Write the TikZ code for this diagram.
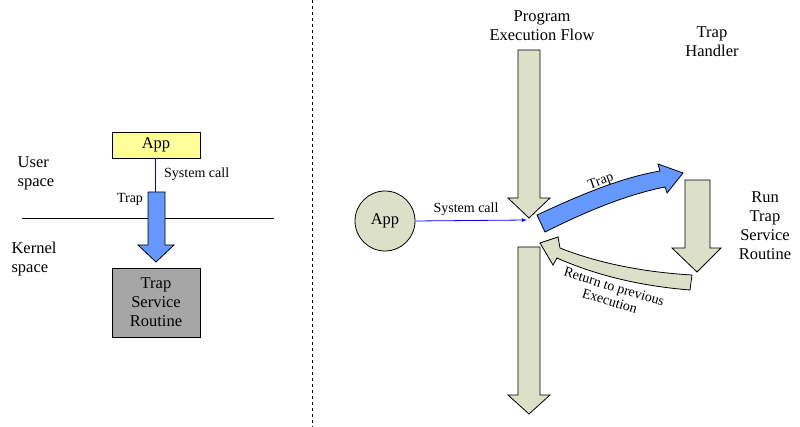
\documentclass[tikz,border=0pt]{standalone}
\usepackage{fontspec}
\setmainfont{Liberation Serif}
\begin{document}
\begin{tikzpicture}[x=1pt,y=-1pt,
  txt/.style={font=\fontsize{16.5}{19}\selectfont,align=center,inner sep=0pt},
  small/.style={font=\fontsize{14}{15}\selectfont,inner sep=0pt},
  olive/.style={draw=black,line width=0.8pt,fill=oli},
  blu/.style={draw=black,line width=0.8pt,fill=blu}]
\definecolor{oli}{HTML}{DDE0C8}
\definecolor{blu}{HTML}{6699FF}
\definecolor{yel}{HTML}{FFFF99}
\definecolor{gry}{HTML}{A6A6A6}
\useasboundingbox (0,0) rectangle (800,427);
% left panel
\node[draw,line width=0.8pt,fill=yel,minimum width=88pt,minimum height=26pt,txt] (app1) at (156,145) {App};
\node[draw,line width=0.8pt,fill=gry,minimum width=88pt,minimum height=69pt,txt] (tsr) at (156,302.5) {Trap\\Service\\Routine};
\coordinate (sc1) at (155,192);
\draw[blue,line width=0.8pt] (app1.south -| sc1) -- (sc1);
\node[small,anchor=west] (lsc) at (164,174) {System call};
\node[small] (ltrap) at (130,199) {Trap};
\draw[line width=0.8pt] (22,218) -- (274,218);
\draw[blu] (148,192) -- (165,192) -- (165,245) -- (174,245) -- (156,262) -- (138,245) -- (148,245) -- cycle;
\node[txt,align=left] (us) at (36,173) {User\\space};
\node[txt,align=left] (ks) at (34,259) {Kernel\\space};
\draw[dashed,line width=0.8pt] (312,0) -- (312,427);
% right panel
\node[txt] (pef) at (542,26) {Program\\Execution Flow};
\node[txt] (th) at (712,42) {Trap\\Handler};
\node[txt] (rtsr) at (765,226) {Run\\Trap\\Service\\Routine};
\draw[olive] (518,50) -- (540,50) -- (540,198) -- (550,198) -- (529,218) -- (508,198) -- (518,198) -- cycle;
\draw[olive] (518,247) -- (540,247) -- (540,395) -- (550,395) -- (529,414) -- (508,395) -- (518,395) -- cycle;
\draw[olive] (685,180) -- (710,180) -- (710,248) -- (721,248) -- (697,272) -- (672,248) -- (685,248) -- cycle;
\node[draw,line width=0.8pt,fill=oli,circle,minimum size=60pt,txt] (app2) at (385,221) {App};
\coordinate (hit) at (527,220);
\draw[blue,line width=0.8pt,-latex] (app2.east) -- (hit);
\node[small] (rsc) at (466,209) {System call};
% trap curved arrow
\draw[blu] (537,215) .. controls (580,195) and (620,178) .. (660,171)
  -- (658,164) -- (683,173) -- (667,193) -- (665,187)
  .. controls (625,195) and (585,212) .. (545,232) -- cycle;
\node[small,rotate=20] (rtrap) at (601,182) {Trap};
% return curved arrow
\draw[olive] (692,275) .. controls (640,272) and (595,262) .. (560,248)
  -- (558,237) -- (540,243) -- (553,265) -- (557,258)
  .. controls (595,275) and (640,286) .. (690,290) -- cycle;
\node[small,rotate=-17,align=center] (ret) at (612,294) {Return to previous\\Execution};
\end{tikzpicture}
\end{document}
